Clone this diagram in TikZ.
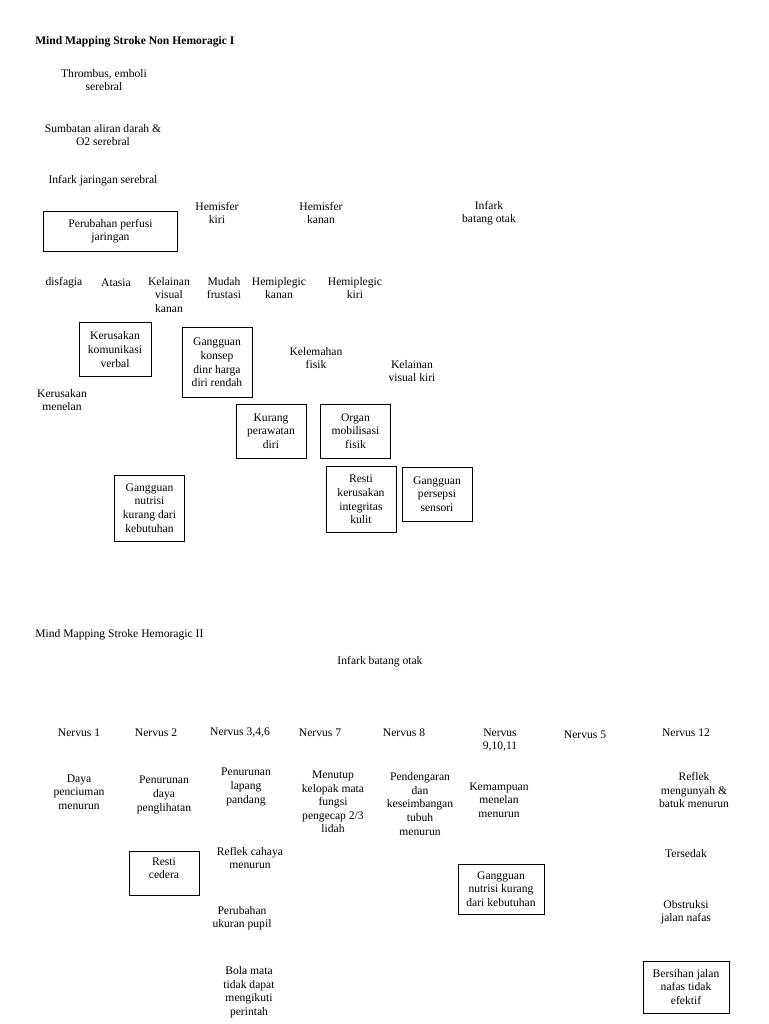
\documentclass[tikz,border=0pt]{standalone}
\usepackage{fontspec}
\setmainfont{Liberation Serif}
\usetikzlibrary{positioning}

\begin{document}
\begin{tikzpicture}[
		x=0.75pt, y=-0.75pt,
		lbl/.style = {align=center, inner sep=0pt, font=\fontsize{8.7pt}{10.2pt}\selectfont},
		box/.style = {lbl, draw, line width=0.6pt, minimum width=52.5pt, minimum height=40.5pt},
		heading/.style = {inner sep=0pt, anchor=west, font=\fontsize{8.7pt}{10.2pt}\selectfont}
		]
		\useasboundingbox (0,0) rectangle (768,1024);
		
		% --- BAGIAN I: STROKE NON HEMORAGIK ---
		\node [heading, font=\fontsize{8.7pt}{10.2pt}\selectfont\bfseries] (title1) at (35, 42) {Mind Mapping Stroke Non Hemoragic I};
		
		\node [lbl] (thrombus) at (104, 80)  {Thrombus, emboli \\ serebral};
		\node [lbl] (sumbatan) at (103, 135) {Sumbatan aliran darah \& \\ O2 serebral};
		\node [lbl] (infark)   at (103, 181) {Infark jaringan serebral};
		\node [box, minimum width=101pt, minimum height=30pt] (perfusi) at (110.5, 231) {Perubahan perfusi \\ jaringan};
		
		\node [lbl] (hem_kiri)  at (217, 213) {Hemisfer \\ kiri};
		\node [lbl] (hem_kanan) at (321, 213) {Hemisfer \\ kanan};
		\node [lbl] (batang)    at (489, 213) {Infark \\ batang otak};
		
		% baris gejala
		\node [lbl] (disfagia)  at (64, 283)  {disfagia};
		\node [lbl] (atasia)    at (116, 283) {Atasia};
		\node [lbl] (vis_kanan) at (169, 295) {Kelainan \\ visual \\ kanan};
		\node [lbl] (frustasi)  at (224, 288) {Mudah \\ frustasi};
		\node [lbl] (hp_kanan)  at (279, 288) {Hemiplegic \\ kanan};
		\node [lbl] (hp_kiri)   at (355, 288) {Hemiplegic \\ kiri};
		
		\node [box, minimum width=54pt, minimum height=40pt] (komunikasi) at (115, 349.5) {Kerusakan \\ komunikasi \\ verbal};
		\node [box, minimum height=53pt] (konsep) at (217, 362.5) {Gangguan \\ konsep \\ dinr harga \\ diri rendah};
		\node [lbl] (kelemahan) at (316, 358) {Kelemahan \\ fisik};
		\node [lbl] (vis_kiri)  at (412, 371) {Kelainan \\ visual kiri};
		\node [lbl] (menelan)   at (62, 400)  {Kerusakan \\ menelan};
		
		\node [box] (perawatan) at (271, 431)   {Kurang \\ perawatan \\ diri};
		\node [box, minimum width=53pt] (mobilisasi) at (355.5, 431) {Organ \\ mobilisasi \\ fisik};
		\node [box, minimum width=53pt, minimum height=49.5pt] (nutrisi1) at (149.5, 508) {Gangguan \\ nutrisi \\ kurang dari \\ kebutuhan};
		\node [box, minimum height=49pt] (kulit) at (361, 499.5) {Resti \\ kerusakan \\ integritas \\ kulit};
		\node [box] (persepsi) at (437, 494) {Gangguan \\ persepsi \\ sensori};
		
		% --- BAGIAN II: STROKE HEMORAGIK ---
		\node [heading] (title2) at (35, 635) {Mind Mapping Stroke Hemoragic II};
		\node [lbl] (batang2) at (380, 662) {Infark batang otak};
		
		% baris nervus
		\node [lbl] (n1)   at (79, 733)  {Nervus 1};
		\node [lbl] (n2)   at (156, 733) {Nervus 2};
		\node [lbl] (n346) at (240, 733) {Nervus 3,4,6};
		\node [lbl] (n7)   at (320, 733) {Nervus 7};
		\node [lbl] (n8)   at (404, 733) {Nervus 8};
		\node [lbl] (n911) at (500, 740) {Nervus \\ 9,10,11};
		\node [lbl] (n5)   at (585, 735) {Nervus 5};
		\node [lbl] (n12)  at (686, 733) {Nervus 12};
		
		% akibat tiap nervus
		\node [lbl] (penciuman)   at (79, 792)  {Daya \\ penciuman \\ menurun};
		\node [lbl] (penglihatan) at (164, 795) {Penurunan \\ daya \\ penglihatan};
		\node [lbl] (lapang)      at (246, 787) {Penurunan \\ lapang \\ pandang};
		\node [lbl] (kelopak)     at (333, 802) {Menutup \\ kelopak mata \\ fungsi \\ pengecap 2/3 \\ lidah};
		\node [lbl] (pendengaran) at (420, 804) {Pendengaran \\ dan \\ keseimbangan \\ tubuh \\ menurun};
		\node [lbl] (kemampuan)   at (499, 800) {Kemampuan \\ menelan \\ menurun};
		\node [lbl] (mengunyah)   at (694, 790) {Reflek \\ mengunyah \& \\ batuk menurun};
		
		\node [box, minimum height=33pt] (cedera) at (164, 873) {Resti \\ cedera \\[-3pt]\mbox{}};
		\node [lbl] (cahaya)    at (250, 858) {Reflek cahaya \\ menurun};
		\node [lbl] (tersedak)  at (686, 854) {Tersedak};
		\node [box, minimum width=64.5pt, minimum height=37.5pt] (nutrisi2) at (501, 889) {Gangguan \\ nutrisi kurang \\ dari kebutuhan};
		\node [lbl] (pupil)     at (242, 918) {Perubahan \\ ukuran pupil};
		\node [lbl] (obstruksi) at (686, 912) {Obstruksi \\ jalan nafas};
		\node [lbl] (bola)      at (249, 992) {Bola mata \\ tidak dapat \\ mengikuti \\ perintah};
		\node [box, minimum width=64.5pt, minimum height=39pt] (bersihan) at (686, 987) {Bersihan jalan \\ nafas tidak \\ efektif};
		
	\end{tikzpicture}
\end{document}
